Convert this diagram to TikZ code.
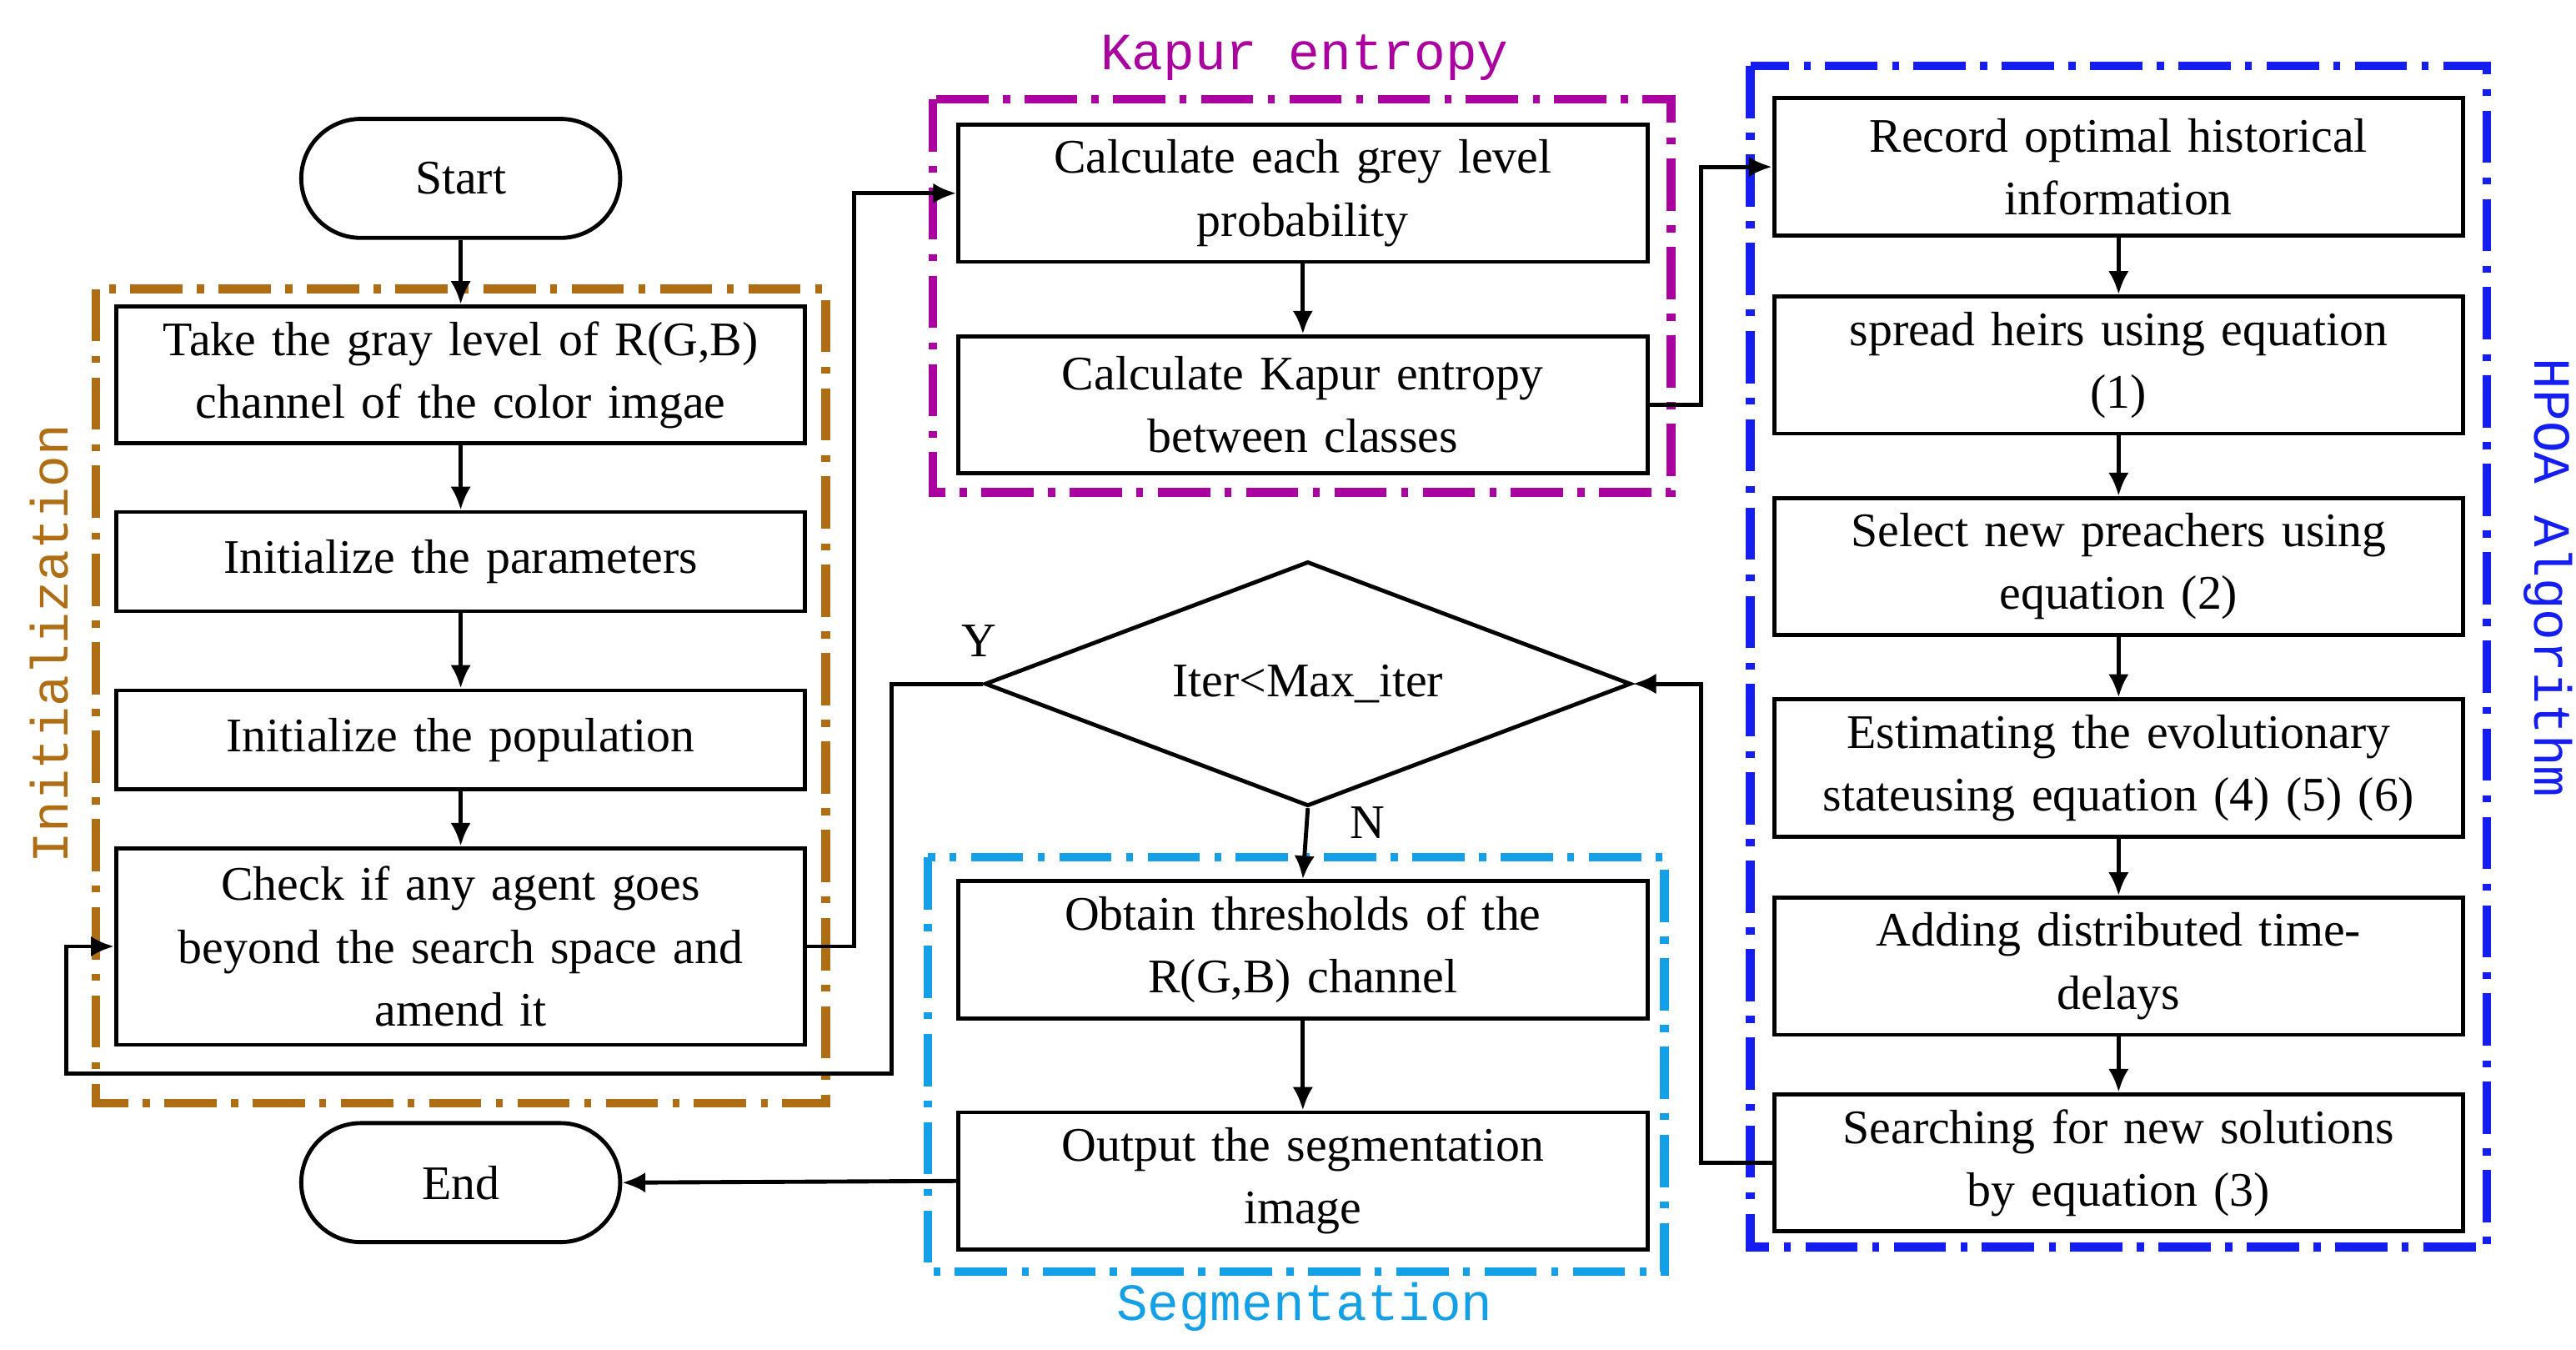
\documentclass[tikz,border=0pt]{standalone}
\usepackage{fontspec}
\setmainfont{Liberation Serif}
\newfontfamily\monofont{Liberation Mono}
\usetikzlibrary{shapes.geometric,positioning,arrows.meta}
\definecolor{initc}{RGB}{176,110,20}
\definecolor{kapc}{RGB}{170,0,160}
\definecolor{segc}{RGB}{20,160,230}
\definecolor{hpoac}{RGB}{20,30,240}
\begin{document}
\begin{tikzpicture}[x=0.01cm,y=-0.01cm,
	every node/.style={font=\fontsize{8.3}{10.8}\selectfont},
	box/.style={draw,line width=0.7pt,minimum width=4.15cm,minimum height=0.83cm,text width=4.1cm,align=center,inner sep=1pt},
	term/.style={draw,line width=0.7pt,rounded corners=0.36cm,minimum width=1.93cm,minimum height=0.72cm},
	frame/.style={line width=1.5pt,dash pattern=on 9pt off 2.5pt on 1.2pt off 2.5pt},
	flow/.style={-{Latex[length=4pt,width=3.5pt]},line width=0.7pt},
	tag/.style={font=\monofont\fontsize{9}{11}\selectfont}]
			\useasboundingbox (0,0) rectangle (1560,817);
			% frames
			\draw[frame,initc] (58,175) rectangle (500,668);
			\draw[frame,kapc] (565,60) rectangle (1012,298);
			\draw[frame,segc] (562,519) rectangle (1008,770);
			\draw[frame,hpoac] (1060,40) rectangle (1506,755);
			\node[tag,initc,rotate=90] (tinit) at (30,390) {Initialization};
			\node[tag,kapc] (tkap) at (790,35) {Kapur entropy};
			\node[tag,segc] (tseg) at (790,791) {Segmentation};
			\node[tag,hpoac,rotate=-90] (thpoa) at (1543,350) {HPOA Algorithm};
			% left column
			\node[term] (start) at (279,108) {Start};
			\node[box] (gray) at (279,227) {Take the gray level of R(G,B)\\channel of the color imgae};
			\node[box,minimum height=0.6cm] (param) at (279,340) {Initialize the parameters};
			\node[box,minimum height=0.6cm] (popu) at (279,448) {Initialize the population};
			\node[box,minimum height=1.19cm] (check) at (279,573) {Check if any agent goes\\beyond the search space and\\amend it};
			\node[term] (end) at (279,716) {End};
			% middle column
			\node[box] (prob) at (789,117) {Calculate each grey level\\probability};
			\node[box] (kapur) at (789,245) {Calculate Kapur entropy\\between classes};
			\node[draw,line width=0.7pt,diamond,aspect=2.64,minimum width=3.91cm,minimum height=1.48cm,inner sep=0pt] (iter) at (792,414) {Iter<Max\_iter};
			\node[box] (thres) at (789,575) {Obtain thresholds of the\\R(G,B) channel};
			\node[box] (output) at (789,715) {Output the segmentation\\image};
			% right column
			\node[box] (rec) at (1283,101) {Record optimal historical\\information};
			\node[box] (spread) at (1283,221) {spread heirs using equation\\(1)};
			\node[box] (select) at (1283,343) {Select new preachers using\\equation (2)};
			\node[box] (estim) at (1283,465) {Estimating the evolutionary\\stateusing equation (4) (5) (6)};
			\node[box] (delay) at (1283,585) {Adding distributed time-\\delays};
			\node[box] (search) at (1283,704) {Searching for new solutions\\by equation (3)};
			% connectors
			\draw[flow] (start)--(gray);
			\draw[flow] (gray)--(param);
			\draw[flow] (param)--(popu);
			\draw[flow] (popu)--(check);
			\draw[flow] (check.east)-|(517,117)--(prob.west);
			\draw[flow] (prob)--(kapur);
			\draw[flow] (kapur.east)-|(1030,101)--(rec.west);
			\draw[flow] (rec)--(spread);
			\draw[flow] (spread)--(select);
			\draw[flow] (select)--(estim);
			\draw[flow] (estim)--(delay);
			\draw[flow] (delay)--(search);
			\draw[flow] (search.west)-|(1030,414)--(iter.east);
			\draw[flow] (iter.west)-|(540,650)-|(40,573)--(check.west);
			\draw[flow] (iter.south)--(thres.north);
			\draw[flow] (thres)--(output);
			\draw[flow] (output.west)--(end.east);
			\node (y) at (593,388) {Y};
			\node (n) at (828,498) {N};
			\end{tikzpicture}
\end{document}
